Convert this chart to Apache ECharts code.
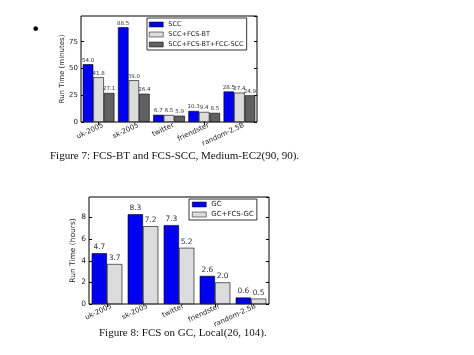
<!DOCTYPE html>
<html><head><meta charset="utf-8">
<script src="https://cdn.jsdelivr.net/npm/echarts@6/dist/echarts.min.js"></script>
<style>html,body{margin:0;padding:0;background:#fff}#c{width:474px;height:355px}</style>
</head><body><div id="c"></div>
<script>
const cats = ['uk-2005','sk-2005','twitter','friendster','random-2.5B'];
const scc = [54.0, 88.5, 6.7, 10.3, 28.5];
const sccBt = [41.8, 39.0, 6.5, 9.4, 27.4];
const sccBtScc = [27.1, 26.4, 5.9, 8.5, 24.9];
const gc = [4.7, 8.3, 7.3, 2.6, 0.6];
const gcFcs = [3.7, 7.2, 5.2, 2.0, 0.5];
const yTicks1 = [0, 25, 50, 75];
const yTicks2 = [0, 2, 4, 6, 8];

const F = 'DejaVu Sans';
const BLUE = '#0000f0', LIGHT = '#dcdcdc', DARK = '#606060';

function xAx(gi, pos, fs, margin) {
  return {
    type: 'category', data: cats, gridIndex: gi, position: pos,
    axisLine: {show: false},
    axisTick: {show: true, inside: true, alignWithLabel: true, length: 3, lineStyle: {color: '#000'}},
    axisLabel: pos === 'bottom' ? {show: true, interval: 0, rotate: 25, fontFamily: F, fontSize: fs, color: '#222', margin: margin, padding: [0, -5, 0, 0]} : {show: false}
  };
}
function yAx(gi, pos, max, interval, fs, gap) {
  return {
    type: 'value', gridIndex: gi, position: pos, min: 0, max: max, interval: interval,
    splitLine: {show: false}, axisLine: {show: false},
    axisTick: {show: true, inside: true, length: 3, lineStyle: {color: '#000'}},
    axisLabel: pos === 'left' ? {show: true, fontFamily: F, fontSize: fs, color: '#222', margin: 3, showMaxLabel: false} : {show: false},
    name: pos === 'left' ? (gi === 0 ? 'Run Time (minutes)' : 'Run Time (hours)') : '',
    nameLocation: 'middle', nameGap: gap,
    nameTextStyle: {fontFamily: F, fontSize: fs, color: '#222'}
  };
}
function bar(name, data, color, xi, yi, fs, dist) {
  return {
    name: name, type: 'bar', data: data, xAxisIndex: xi, yAxisIndex: yi,
    barGap: '0%', barCategoryGap: xi === 0 ? '10%' : '15%',
    itemStyle: {color: color, borderColor: '#000', borderWidth: 0.6},
    label: {show: true, position: 'top', distance: dist, fontFamily: F, fontSize: fs, color: '#333',
      formatter: p => p.value.toFixed(1)},
    emphasis: {disabled: true}, animation: false
  };
}

const chart = echarts.init(document.getElementById('c'), null, {renderer: 'canvas'});
chart.setOption({
  animation: false,
  backgroundColor: '#fff',
  grid: [
    {left: 81, top: 16, width: 176, height: 106, show: true, borderColor: '#000', borderWidth: 1, backgroundColor: '#fff'},
    {left: 89, top: 197, width: 180, height: 107, show: true, borderColor: '#000', borderWidth: 1, backgroundColor: '#fff'}
  ],
  xAxis: [xAx(0, 'bottom', 7, 5), xAx(0, 'top', 7, 5), xAx(1, 'bottom', 7, 4), xAx(1, 'top', 7, 4)],
  yAxis: [yAx(0, 'left', 99, 25, 7, 8), yAx(0, 'right', 99, 25, 7, 0), yAx(1, 'left', 9.9, 2, 7.5, 7), yAx(1, 'right', 9.9, 2, 7.5, 0)],
  legend: [
    {data: ['SCC', 'SCC+FCS-BT', 'SCC+FCS-BT+FCC-SCC'], orient: 'vertical', left: 147, top: 18,
     icon: 'rect', itemWidth: 14, itemHeight: 5, itemGap: 3, padding: [3, 3, 2, 2], borderColor: '#000', borderWidth: 0.8,
     itemStyle: {borderWidth: 0.5, borderColor: '#000'},
     backgroundColor: '#fff', textStyle: {fontFamily: F, fontSize: 6.5, color: '#222'}, selectedMode: false},
    {data: ['GC', 'GC+FCS-GC'], orient: 'vertical', left: 189, top: 199,
     icon: 'rect', itemWidth: 14, itemHeight: 5, itemGap: 3, padding: [2, 3, 2, 3], borderColor: '#000', borderWidth: 0.8,
     itemStyle: {borderWidth: 0.5, borderColor: '#000'},
     backgroundColor: '#fff', textStyle: {fontFamily: F, fontSize: 7, color: '#222'}, selectedMode: false}
  ],
  series: [
    bar('SCC', scc, BLUE, 0, 0, 5.5, 1),
    bar('SCC+FCS-BT', sccBt, LIGHT, 0, 0, 5.5, 1),
    bar('SCC+FCS-BT+FCC-SCC', sccBtScc, DARK, 0, 0, 5.5, 1),
    bar('GC', gc, BLUE, 2, 2, 7.5, 2),
    bar('GC+FCS-GC', gcFcs, LIGHT, 2, 2, 7.5, 2)
  ],
  title: [
    {text: 'Figure 7: FCS-BT and FCS-SCC, Medium-EC2(90, 90).', left: 50, top: 151, padding: 0,
     textStyle: {fontFamily: 'Liberation Serif', fontSize: 11, fontWeight: 'normal', color: '#111'}},
    {text: 'Figure 8: FCS on GC, Local(26, 104).', left: 99, top: 328, padding: 0,
     textStyle: {fontFamily: 'Liberation Serif', fontSize: 11, fontWeight: 'normal', color: '#111'}},
    {text: '•', left: 31, top: 23, padding: 0, textStyle: {fontFamily: 'DejaVu Sans', fontSize: 16, fontWeight: 'normal', color: '#000'}}
  ]
});
</script></body></html>
